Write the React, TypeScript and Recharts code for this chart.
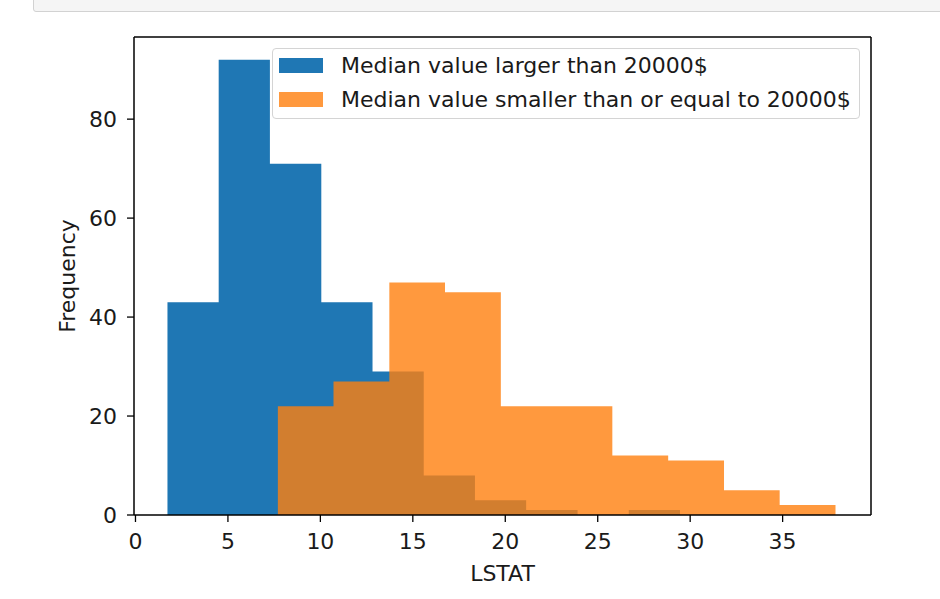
import React from 'react';
import { ComposedChart, Area, XAxis, YAxis, Legend, Label, ReferenceLine } from 'recharts';

// Histogram of LSTAT, bin edges and counts
const aboveEdges = [1.73, 4.5, 7.27, 10.05, 12.82, 15.59, 18.36, 21.13, 23.91, 26.68, 29.45];
const aboveCounts = [43, 92, 71, 43, 29, 8, 3, 1, 0, 1];
const belowEdges = [7.7, 10.71, 13.73, 16.74, 19.76, 22.78, 25.79, 28.81, 31.83, 34.84, 37.86];
const belowCounts = [22, 27, 47, 45, 22, 22, 12, 11, 5, 2];

const xTicks = [0, 5, 10, 15, 20, 25, 30, 35];
const yTicks = [0, 20, 40, 60, 80];
const xDomain = [-0.08, 39.78];
const yDomain = [0, 96.6];

const seriesNames = ['Median value larger than 20000$', 'Median value smaller than or equal to 20000$'];
const seriesColors = ['#1f77b4', '#ff7f0e'];

type Row = { x: number; above: number | null; below: number | null };

const rows: Row[] = [];
aboveEdges.forEach((x, i) => {
  rows.push({ x, above: aboveCounts[Math.min(i, aboveCounts.length - 1)], below: null });
});
belowEdges.forEach((x, i) => {
  rows.push({ x, above: null, below: belowCounts[Math.min(i, belowCounts.length - 1)] });
});
rows.sort((a, b) => a.x - b.x);

const FONT = '"DejaVu Sans", sans-serif';
const TEXT = '#1a1a1a';
const FS = 22;

const XTitle = (props: any) => {
  const vb = props.viewBox || {};
  return (
    <text x={vb.x + vb.width / 2} y={vb.y + 66} textAnchor="middle" fontFamily={FONT} fontSize={FS} fill={TEXT}>
      LSTAT
    </text>
  );
};

const YTitle = (props: any) => {
  const vb = props.viewBox || {};
  const cx = vb.x + 41;
  const cy = vb.y + vb.height / 2;
  return (
    <text x={cx} y={cy} transform={`rotate(-90 ${cx} ${cy})`} textAnchor="middle" fontFamily={FONT} fontSize={FS} fill={TEXT}>
      Frequency
    </text>
  );
};

const LegendBox = () => (
  <div
    style={{
      position: 'relative',
      width: 588,
      height: 71,
      boxSizing: 'border-box',
      background: 'rgba(255,255,255,0.8)',
      border: '1px solid #d4d4d4',
      borderRadius: 4,
      fontFamily: FONT,
      fontSize: FS,
      color: TEXT,
    }}
  >
    {seriesNames.map((name, i) => (
      <div key={name} style={{ position: 'absolute', left: 0, top: 17 + i * 34 - 12, height: 24, width: '100%' }}>
        <div
          style={{
            position: 'absolute',
            left: 6,
            top: 4,
            width: 44,
            height: 15,
            background: seriesColors[i],
            opacity: i === 1 ? 0.8 : 1,
          }}
        />
        <div style={{ position: 'absolute', left: 68, top: 0, lineHeight: '24px', whiteSpace: 'nowrap' }}>{name}</div>
      </div>
    ))}
  </div>
);

export default function App() {
  return (
    <div style={{ position: 'absolute', left: 0, top: 0, width: 940, height: 599, background: '#fff', overflow: 'hidden' }}>
      <div
        style={{
          position: 'absolute',
          left: 33,
          top: -8,
          width: 930,
          height: 18,
          background: '#f5f5f5',
          border: '1px solid #d2d2d2',
          borderRadius: 3,
        }}
      />
      <div style={{ position: 'absolute', left: 0, top: 0 }}>
        <ComposedChart width={940} height={599} data={rows} margin={{ top: 37, right: 69, bottom: 44, left: 34 }}>
          <XAxis
            dataKey="x"
            type="number"
            domain={xDomain}
            ticks={xTicks}
            allowDataOverflow
            height={40}
            tickSize={7}
            tickMargin={11}
            axisLine={{ stroke: '#000', strokeWidth: 1.5 }}
            tickLine={{ stroke: '#000', strokeWidth: 1.3 }}
            tick={{ fill: TEXT, fontSize: FS, fontFamily: FONT }}
          >
            <Label content={<XTitle />} />
          </XAxis>
          <YAxis
            type="number"
            domain={yDomain}
            ticks={yTicks}
            allowDataOverflow
            width={100}
            tickSize={7}
            tickMargin={10}
            axisLine={{ stroke: '#000', strokeWidth: 1.5 }}
            tickLine={{ stroke: '#000', strokeWidth: 1.3 }}
            tick={{ fill: TEXT, fontSize: FS, fontFamily: FONT }}
          >
            <Label content={<YTitle />} />
          </YAxis>
          <Area
            dataKey="above"
            type="stepAfter"
            connectNulls
            stroke="none"
            fill={seriesColors[0]}
            fillOpacity={1}
            baseValue={0}
            isAnimationActive={false}
            dot={false}
            activeDot={false}
          />
          <Area
            dataKey="below"
            type="stepAfter"
            connectNulls
            stroke="none"
            fill={seriesColors[1]}
            fillOpacity={0.8}
            baseValue={0}
            isAnimationActive={false}
            dot={false}
            activeDot={false}
          />
          <ReferenceLine y={yDomain[1]} stroke="#000" strokeWidth={1.5} ifOverflow="extendDomain" />
          <ReferenceLine x={xDomain[1]} stroke="#000" strokeWidth={1.5} ifOverflow="extendDomain" />
          <Legend
            layout="vertical"
            verticalAlign="middle"
            align="center"
            content={<LegendBox />}
            wrapperStyle={{ position: 'absolute', left: 272, top: 48, width: 588, height: 71 }}
          />
        </ComposedChart>
      </div>
    </div>
  );
}
